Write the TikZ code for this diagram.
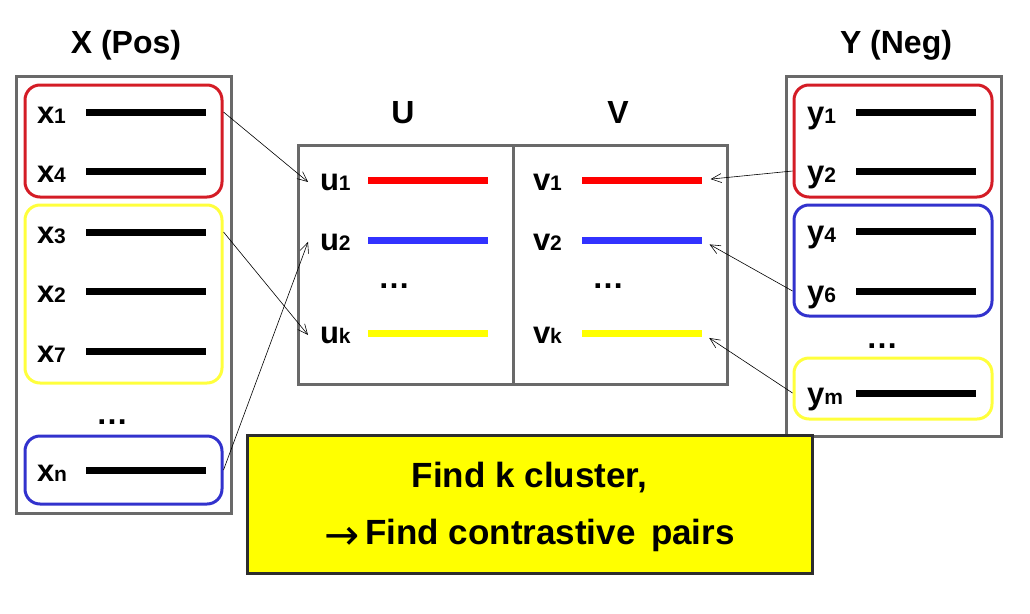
\documentclass[tikz,border=0pt]{standalone}
\usepackage{fontspec}
\setmainfont{Liberation Sans}
\newfontfamily\dvs{DejaVu Sans}
\usetikzlibrary{fit,arrows.meta}
\definecolor{frame}{RGB}{105,105,105}
\definecolor{gred}{RGB}{212,28,38}
\definecolor{gyel}{RGB}{255,255,60}
\definecolor{gblu}{RGB}{50,50,205}
\definecolor{lred}{RGB}{255,0,0}
\definecolor{lblu}{RGB}{50,50,255}
\definecolor{lyel}{RGB}{255,255,0}
\definecolor{boxdark}{RGB}{45,45,45}
\newcommand\lab[2]{{\fontsize{31}{31}\selectfont #1}{\fontsize{21}{21}\selectfont #2}}
\begin{document}
\begin{tikzpicture}[x=1pt,y=-1pt,
  every node/.style={font=\bfseries},
  panel/.style={draw=frame, line width=3pt, inner sep=0pt},
  grp/.style={draw=#1, line width=3pt, rounded corners=15pt, inner sep=0pt},
  bar/.style={fill=#1, inner sep=0pt, minimum height=7pt, minimum width=120pt},
  lbl/.style={anchor=base west, inner sep=0pt, outer sep=0pt},
  ulbl/.style={anchor=base west, inner sep=0pt, outer xsep=12pt, outer ysep=0pt},
  title/.style={anchor=base, inner sep=0pt, font=\bfseries\fontsize{32}{32}\selectfont},
  dotsn/.style={anchor=base, inner sep=0pt, font=\bfseries\fontsize{32}{32}\selectfont},
  big/.style={anchor=base, inner sep=0pt, font=\bfseries\fontsize{35}{35}\selectfont},
  conn/.style={draw=black, line width=0.6pt, -{Straight Barb[length=10pt,width=9pt]}}]
\useasboundingbox (0,0) rectangle (1030,613);

% titles
\node[title] (tX) at (126,53) {X (Pos)};
\node[title] (tY) at (896,53) {Y (Neg)};
\node[title] (tU) at (403,123) {U};
\node[title] (tV) at (618,123) {V};

% left panel
\node[panel, fit={(16,76) (231,513)}] (pX) {};
\node[grp=gred, fit={(25,85) (222,197)}] (gX1) {};
\node[grp=gyel, fit={(25,205) (222,383)}] (gX2) {};
\node[grp=gblu, fit={(25,436) (222,504)}] (gX3) {};
\node[bar=black] (bx1) at (146,112) {};
\node[bar=black] (bx4) at (146,171) {};
\node[bar=black] (bx3) at (146,232) {};
\node[bar=black] (bx2) at (146,291) {};
\node[bar=black] (bx7) at (146,351) {};
\node[bar=black] (bxn) at (146,470) {};
\node[lbl] (x1) at (37,123) {\lab{x}{1}};
\node[lbl] (x4) at (37,182) {\lab{x}{4}};
\node[lbl] (x3) at (37,243) {\lab{x}{3}};
\node[lbl] (x2) at (37,302) {\lab{x}{2}};
\node[lbl] (x7) at (37,362) {\lab{x}{7}};
\node[lbl] (xn) at (37,481) {\lab{x}{n}};
\node[dotsn] (dX) at (112,424) {…};

% middle
\node[panel, fit={(298,145) (513,384)}] (pU) {};
\node[panel, fit={(513,145) (727,384)}] (pV) {};
\node[bar=lred] (bu1) at (428,180) {};
\node[bar=lblu] (bu2) at (428,240) {};
\node[bar=lyel] (buk) at (428,333) {};
\node[bar=lred] (bv1) at (641.5,180) {};
\node[bar=lblu] (bv2) at (641.5,240) {};
\node[bar=lyel] (bvk) at (641.5,333) {};
\node[ulbl] (u1) at (308,190) {\lab{u}{1}};
\node[ulbl] (u2) at (308,250) {\lab{u}{2}};
\node[ulbl] (uk) at (308,343) {\lab{u}{k}};
\node[lbl] (v1) at (533,190) {\lab{v}{1}};
\node[lbl] (v2) at (533,250) {\lab{v}{2}};
\node[lbl] (vk) at (533,343) {\lab{v}{k}};
\node[dotsn] (dU) at (394,288) {…};
\node[dotsn] (dV) at (608,288) {…};

% right panel
\node[panel, fit={(786,76) (1001,436)}] (pY) {};
\node[grp=gred, fit={(794,85) (992,197)}] (gY1) {};
\node[grp=gblu, fit={(794,205) (992,316)}] (gY2) {};
\node[grp=gyel, fit={(794,358) (992,419)}] (gY3) {};
\node[bar=black] (by1) at (915.5,112) {};
\node[bar=black] (by2) at (915.5,171) {};
\node[bar=black] (by4) at (915.5,231) {};
\node[bar=black] (by6) at (915.5,291) {};
\node[bar=black] (bym) at (915.5,393) {};
\node[lbl] (y1) at (807,123) {\lab{y}{1}};
\node[lbl] (y2) at (807,182) {\lab{y}{2}};
\node[lbl] (y4) at (807,242) {\lab{y}{4}};
\node[lbl] (y6) at (807,302) {\lab{y}{6}};
\node[lbl] (ym) at (807,404) {\lab{y}{m}};
\node[dotsn] (dY) at (882,348) {…};

% bottom box
\node[draw=boxdark, fill=lyel, line width=3pt, inner sep=0pt, fit={(247,435) (812,573)}] (note) {};
\node[big] (n1) at (529.5,487) {Find k cluster,};
\node[big] (n2) at (529.5,544) {\raisebox{-5pt}{\dvs\fontsize{42}{42}\selectfont\mdseries →}\,Find contrastive\, pairs};

% connectors
\draw[conn] (gX1.east |- bx1) -- (u1.west);
\draw[conn] (gX2.east |- bx3) -- (uk.west);
\draw[conn] (gX3.east |- bxn) -- (u2.west);
\draw[conn, shorten >=9pt] (gY1.west |- by2) -- (bv1.east);
\draw[conn, shorten >=9pt] (gY2.west |- by6) -- (bv2.east);
\draw[conn, shorten >=9pt] (gY3.west |- bym) -- (bvk.east);
\end{tikzpicture}
\end{document}
